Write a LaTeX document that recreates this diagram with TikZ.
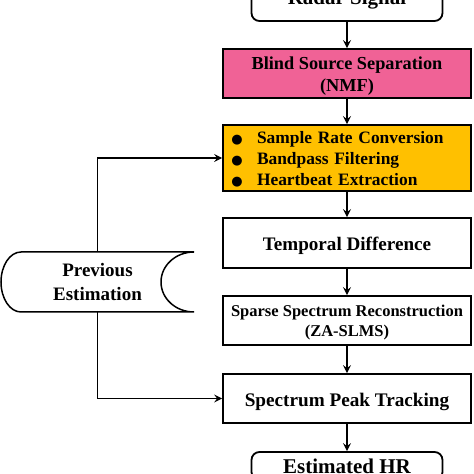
\documentclass[tikz,border=0pt]{standalone}
\usepackage{fontspec}
\setmainfont{Liberation Serif}
\newfontfamily\dejavu{DejaVu Sans}
\usetikzlibrary{arrows.meta}
\definecolor{pinkbox}{RGB}{240,98,150}
\definecolor{goldbox}{RGB}{255,192,0}
\newcommand{\fs}[2]{\fontsize{#1}{#2}\selectfont}
\newcommand{\bul}{\makebox[0pt][c]{{\dejavu\fontsize{13}{13}\selectfont ●}}\hspace{20pt}}
\tikzset{
  procbox/.style={draw=black, line width=1.8pt, minimum width=248pt, inner sep=0pt, align=center, text depth=0pt},
  termbox/.style={draw=black, line width=1.8pt, rounded corners=8pt, minimum width=191pt, inner sep=0pt, align=center},
  arr/.style={line width=1.4pt, -{Stealth[length=8pt,width=8pt,inset=3pt]}},
  flowline/.style={line width=1.4pt}
}
\begin{document}
\begin{tikzpicture}[x=1pt,y=1pt]
\useasboundingbox (0,0) rectangle (474,474);
\fill[white] (0,0) rectangle (474,474);
% nodes
\node[termbox, minimum height=42pt, font=\bfseries\fs{21}{24}] (radar) at (347,474) {Radar Signal};
\node[procbox, fill=pinkbox, minimum height=49pt, text height=37pt, font=\bfseries\fs{18.3}{22}] (blind) at (347,400.5) {Blind Source Separation\\(NMF)};
\node[procbox, fill=goldbox, minimum height=66pt, text width=220pt, inner xsep=14pt, align=left, text height=12pt, text depth=40pt, font=\bfseries\fs{17.4}{21}] (pre) at (347,316) {\bul Sample Rate Conversion\\\bul Bandpass Filtering\\\bul Heartbeat Extraction};
\node[procbox, minimum height=50pt, text height=16pt, font=\bfseries\fs{19.1}{22}] (temp) at (347,231) {Temporal Difference};
\node[procbox, minimum height=49pt, text height=33pt, font=\bfseries\fs{16.5}{20}] (sparse) at (347,153.5) {Sparse Spectrum Reconstruction\\(ZA-SLMS)};
\node[procbox, minimum height=49pt, text height=17pt, font=\bfseries\fs{19.2}{22}] (peak) at (347,75.5) {Spectrum Peak Tracking};
\node[termbox, minimum height=28pt, font=\bfseries\fs{21}{24}] (hr) at (347,8) {Estimated HR};
% stored data shape
\draw[line width=1.5pt] (21,222) -- (194,222) arc[start angle=90, end angle=270, x radius=33, y radius=30]
  -- (21,162) arc[start angle=270, end angle=90, x radius=20, y radius=30] -- cycle;
\node[minimum width=193pt, minimum height=60pt, inner sep=0pt, align=center, text height=38pt, text depth=0pt, font=\bfseries\fs{19}{24}] (prev) at (97.5,192) {Previous\\Estimation};
% connectors
\draw[arr] (radar.south) -- (blind.north);
\draw[arr] (blind.south) -- (pre.north);
\draw[arr] (pre.south) -- (temp.north);
\draw[arr] (temp.south) -- (sparse.north);
\draw[arr] (sparse.south) -- (peak.north);
\draw[arr] (peak.south) -- (hr.north);
\draw[arr] (prev.north) |- (pre.west);
\draw[arr] (prev.south) |- (peak.west);
\end{tikzpicture}
\end{document}
